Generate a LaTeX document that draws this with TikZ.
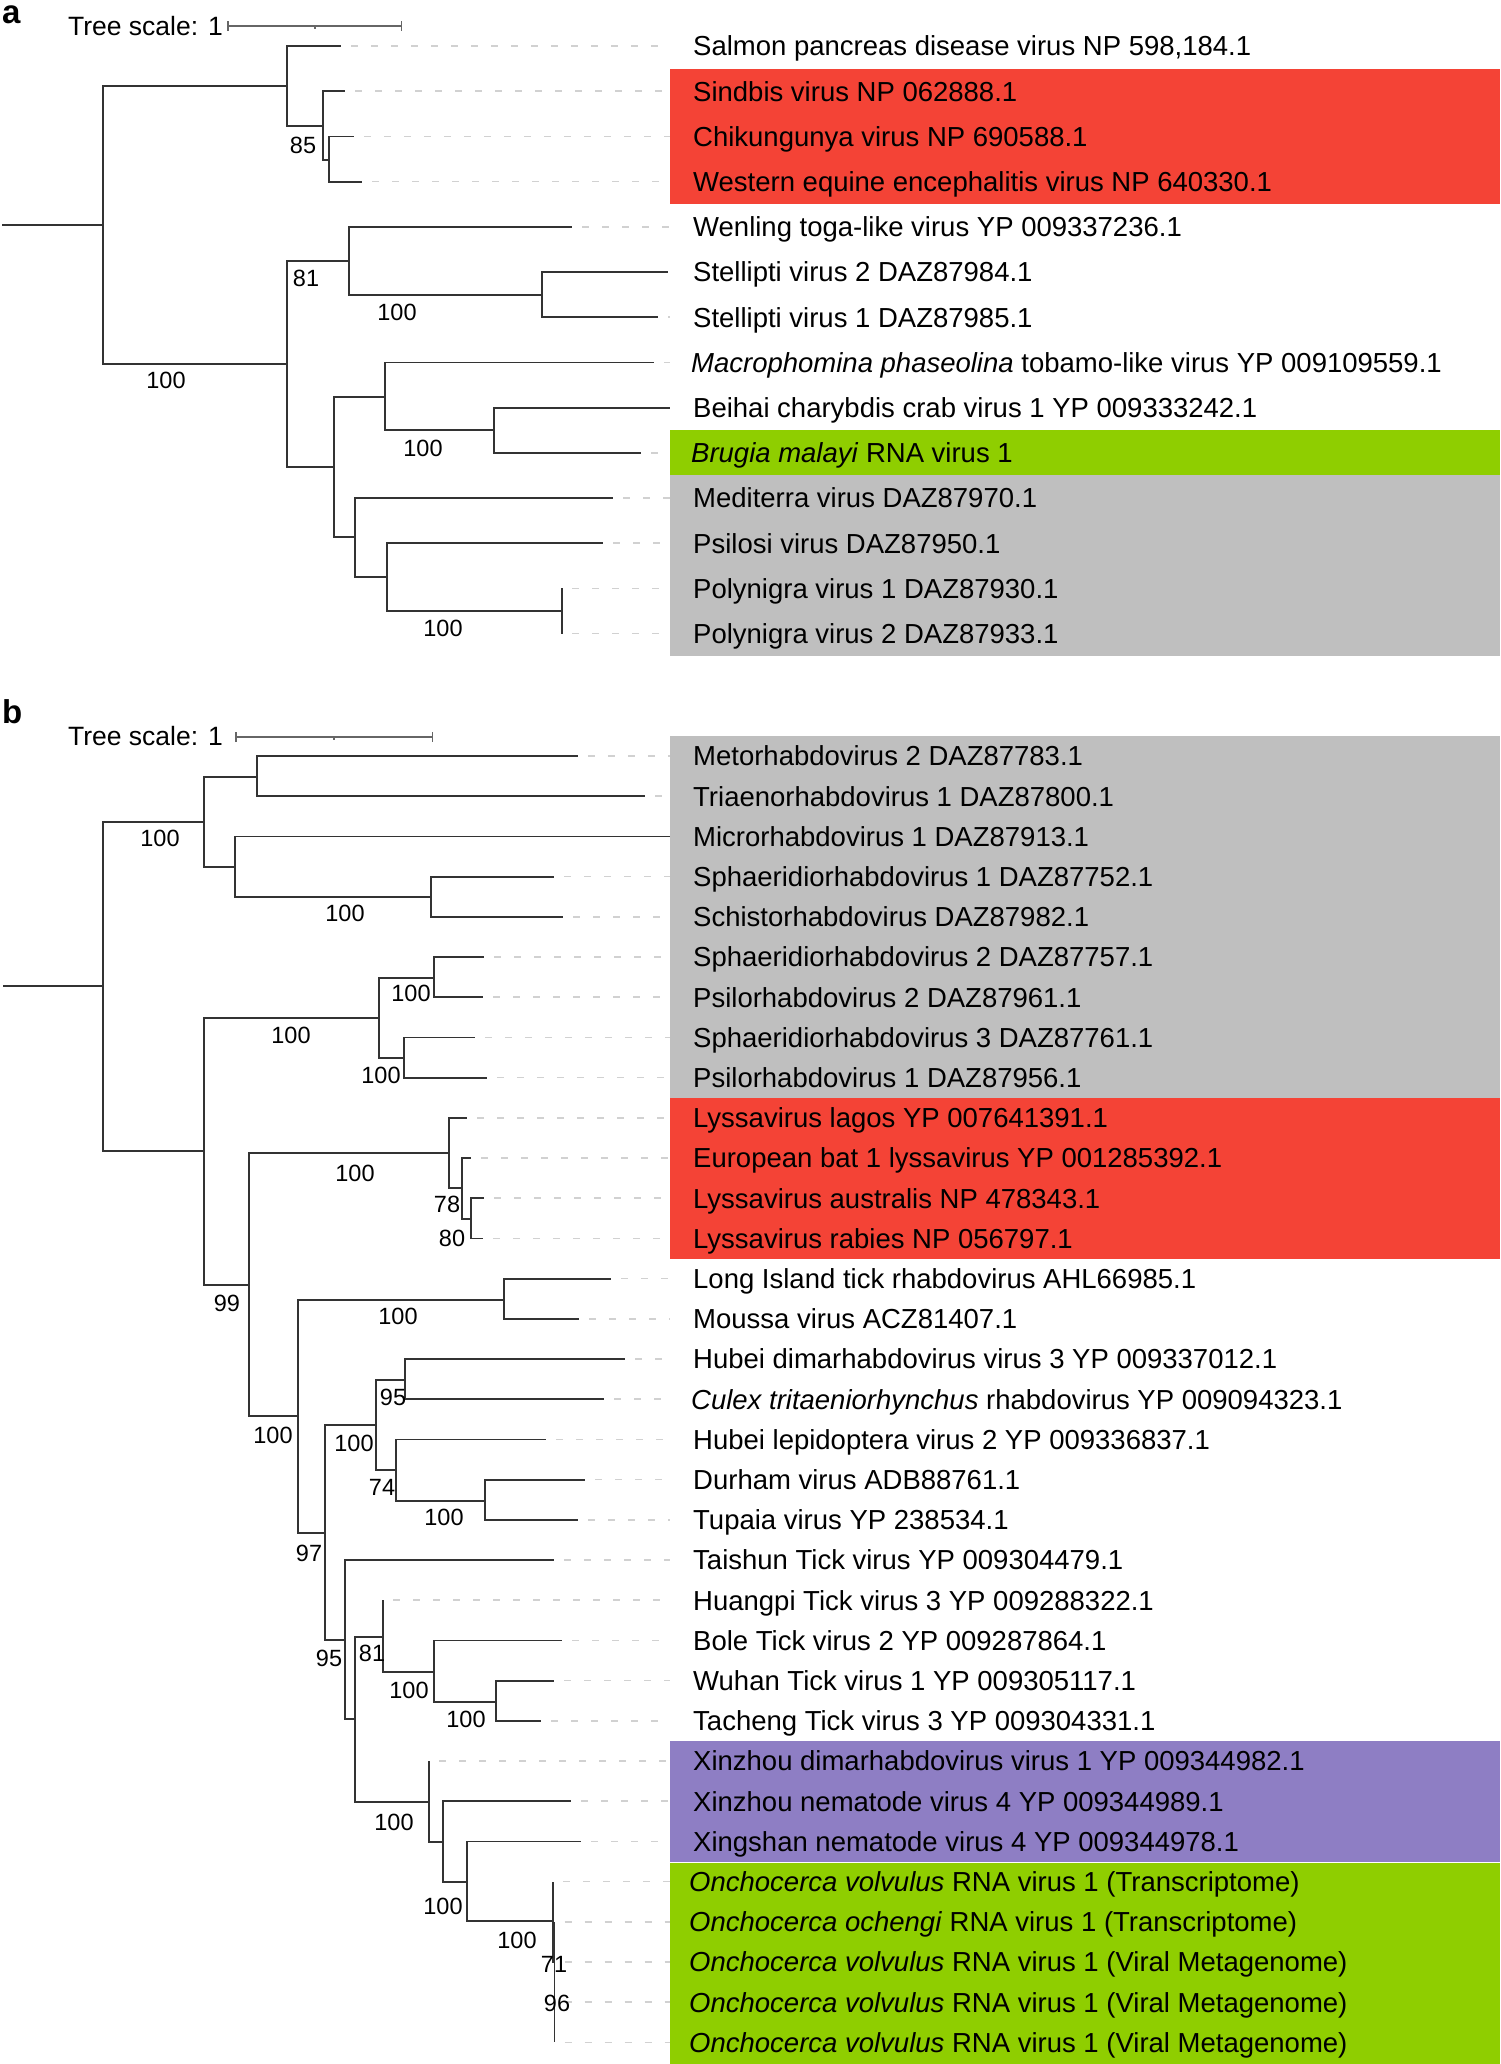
\documentclass[tikz,border=0pt]{standalone}
\usepackage{fontspec}
\setmainfont{Liberation Sans}
\usepackage{tikz}
\usetikzlibrary{positioning,arrows.meta}

\definecolor{cladered}{HTML}{F44336}
\definecolor{cladegreen}{HTML}{8FCE00}
\definecolor{cladegray}{HTML}{BFBFBF}
\definecolor{cladepurple}{HTML}{8E7EC4}
\definecolor{branchcol}{HTML}{333333}
\definecolor{scalecol}{HTML}{666666}

\newcommand{\leaffont}{\fontsize{27.5}{33}\selectfont}
\newcommand{\bootfont}{\fontsize{23.5}{28}\selectfont}
\newcommand{\scalefont}{\fontsize{26.5}{32}\selectfont}
\newcommand{\panelfont}{\fontsize{33}{40}\selectfont\bfseries}

\tikzset{
  branch/.style={draw=branchcol, line width=1.8pt},
  leader/.style={draw=black!18, line width=1.5pt, dash pattern=on 7pt off 13pt, dash phase=10pt},
  leaf/.style={anchor=base west, inner sep=0pt, font=\leaffont, yshift=-9.8pt},
  boot/.style={inner sep=0pt, font=\bootfont},
  scalebar/.style={draw=scalecol, line width=1.5pt, {Bar[width=10pt]}-{Bar[width=10pt]}},
  scaletext/.style={anchor=base east, inner sep=0pt, font=\scalefont},
  panel/.style={anchor=base west, inner sep=0pt, font=\panelfont, text height=0.55em, text depth=0pt}
}

\begin{document}
\begin{tikzpicture}[x=1pt,y=-1pt]
\useasboundingbox (0,0) rectangle (1500,2064);
\coordinate (edge) at (670,0);

% clade shading
\fill[cladered] (670,68.6) rectangle (1500,204.2);
\fill[cladegreen] (670,430.2) rectangle (1500,475.4);
\fill[cladegray] (670,475.4) rectangle (1500,656.2);
\fill[cladegray] (670,735.9) rectangle (1500,1097.7);
\fill[cladered] (670,1097.7) rectangle (1500,1258.5);
\fill[cladepurple] (670,1740.9) rectangle (1500,1861.5);
\fill[cladegreen] (670,1862.6) rectangle (1500,2064);

% panel a
\node[panel] (pa) at (2,23) {a};
\node[scaletext] (sca) at (223,35) {Tree scale: 1};
\coordinate (sa0) at (227,26); \coordinate (sa1) at (402,26); \coordinate (sam) at (315,26);
\draw[scalebar] (sa0) -- (sa1); \draw[draw=scalecol, line width=1.5pt] (sam) -- ++(0,3);

\coordinate (a0) at (2,225); \coordinate (aA) at (103,225); \coordinate (aB) at (287,86); \coordinate (aC) at (323,126); \coordinate (aD) at (329,160);
\coordinate (aE) at (287,364); \coordinate (aF) at (349,261); \coordinate (aH) at (542,295); \coordinate (aI) at (334,467); \coordinate (aJ) at (385,397);
\coordinate (aK) at (494,430); \coordinate (aL) at (355,537); \coordinate (aM) at (387,577); \coordinate (aN) at (562,611);

\coordinate (tsal) at (341,46); \coordinate (tsin) at (345,91.2); \coordinate (tchi) at (354,136.4); \coordinate (twee) at (362,181.6);
\coordinate (twen) at (572,226.8); \coordinate (tstb) at (668,272); \coordinate (tsta) at (658,317.2); \coordinate (tmac) at (654,362.4);
\coordinate (tbei) at (670,407.6); \coordinate (tbru) at (641,452.8); \coordinate (tmed) at (613,498); \coordinate (tpsi) at (603,543.2);
\coordinate (tpya) at (562,588.4); \coordinate (tpyb) at (562,633.6);

\draw[branch] (a0) -- (aA) (aA) |- (aB) (aA) |- (aE) (aB) |- (tsal) (aB) |- (aC) (aC) |- (tsin) (aC) |- (aD) (aD) |- (tchi) (aD) |- (twee);
\draw[branch] (aE) |- (aF) (aE) |- (aI) (aF) |- (twen) (aF) |- (aH) (aH) |- (tstb) (aH) |- (tsta);
\draw[branch] (aI) |- (aJ) (aI) |- (aL) (aJ) |- (tmac) (aJ) |- (aK) (aK) |- (tbei) (aK) |- (tbru);
\draw[branch] (aL) |- (tmed) (aL) |- (aM) (aM) |- (tpsi) (aM) |- (aN) (aN) |- (tpya) (aN) |- (tpyb);

\draw[leader] (tsal) -- (tsal -| edge) (tsin) -- (tsin -| edge) (tchi) -- (tchi -| edge) (twee) -- (twee -| edge) (twen) -- (twen -| edge);
\draw[leader] (tsta) -- (tsta -| edge) (tmac) -- (tmac -| edge) (tbru) -- (tbru -| edge) (tmed) -- (tmed -| edge) (tpsi) -- (tpsi -| edge) (tpya) -- (tpya -| edge) (tpyb) -- (tpyb -| edge);

\node[leaf] (lsal) at (693,46) {Salmon pancreas disease virus NP 598,184.1};
\node[leaf] (lsin) at (693,91.2) {Sindbis virus NP 062888.1};
\node[leaf] (lchi) at (693,136.4) {Chikungunya virus NP 690588.1};
\node[leaf] (lwee) at (693,181.6) {Western equine encephalitis virus NP 640330.1};
\node[leaf] (lwen) at (693,226.8) {Wenling toga-like virus YP 009337236.1};
\node[leaf] (lstb) at (693,272) {Stellipti virus 2 DAZ87984.1};
\node[leaf] (lsta) at (693,317.2) {Stellipti virus 1 DAZ87985.1};
\node[leaf] (lmac) at (691,362.4) {\textit{Macrophomina phaseolina} tobamo-like virus YP 009109559.1};
\node[leaf] (lbei) at (693,407.6) {Beihai charybdis crab virus 1 YP 009333242.1};
\node[leaf] (lbru) at (691,452.8) {\textit{Brugia malayi} RNA virus 1};
\node[leaf] (lmed) at (693,498) {Mediterra virus DAZ87970.1};
\node[leaf] (lpsi) at (693,543.2) {Psilosi virus DAZ87950.1};
\node[leaf] (lpya) at (693,588.4) {Polynigra virus 1 DAZ87930.1};
\node[leaf] (lpyb) at (693,633.6) {Polynigra virus 2 DAZ87933.1};

\node[boot] (bc) at (303,145) {85}; \node[boot] (bf) at (306,278) {81}; \node[boot] (bh) at (397,312) {100};
\node[boot] (be) at (166,380) {100}; \node[boot] (bk) at (423,448) {100}; \node[boot] (bn) at (443,628) {100};

% panel b
\node[panel] (pb) at (2,723) {b};
\node[scaletext] (scb) at (223,745) {Tree scale: 1};
\coordinate (sb0) at (235,737); \coordinate (sb1) at (433,737); \coordinate (sbm) at (334,737);
\draw[scalebar] (sb0) -- (sb1); \draw[draw=scalecol, line width=1.5pt] (sbm) -- ++(0,3);

\coordinate (b0) at (3,986); \coordinate (bS) at (103,986); \coordinate (bQ) at (204,822); \coordinate (bP) at (257,777); \coordinate (bR) at (235,867);
\coordinate (bT) at (431,897); \coordinate (bU) at (204,1151); \coordinate (bV) at (379,1018); \coordinate (bW) at (434,978); \coordinate (bX) at (404,1058);
\coordinate (bZ) at (249,1285); \coordinate (bAA) at (449,1153); \coordinate (bAB) at (462,1188); \coordinate (bAC) at (471,1219);
\coordinate (bAD) at (298,1416); \coordinate (bAE) at (504,1300); \coordinate (bAF) at (325,1533); \coordinate (bAG) at (376,1425);
\coordinate (bAH) at (405,1380); \coordinate (bAI) at (396,1470); \coordinate (bAJ) at (485,1501); \coordinate (bAK) at (345,1640);
\coordinate (bAL) at (355,1719); \coordinate (bAM) at (383,1637); \coordinate (bAN) at (434,1672); \coordinate (bAO) at (496,1702);
\coordinate (bAP) at (429,1802); \coordinate (bAQ) at (443,1842); \coordinate (bAR) at (467,1882); \coordinate (bAS) at (553,1921); \coordinate (bAT) at (554.5,1962);

\coordinate (tmet) at (578,756); \coordinate (ttri) at (645,796.2); \coordinate (tmic) at (670,836.4); \coordinate (tspa) at (554,876.6);
\coordinate (tsch) at (563,916.8); \coordinate (tspb) at (484,957); \coordinate (tpsb) at (483,997.2); \coordinate (tspc) at (475,1037.4);
\coordinate (tpsa) at (487,1077.6); \coordinate (tlag) at (467,1117.8); \coordinate (teur) at (471,1158); \coordinate (taus) at (484,1198.2);
\coordinate (trab) at (483,1238.4); \coordinate (tlon) at (611,1278.6); \coordinate (tmou) at (579,1318.8); \coordinate (thdi) at (625,1359);
\coordinate (tcul) at (604,1399.2); \coordinate (thle) at (546,1439.4); \coordinate (tdur) at (585,1479.6); \coordinate (ttup) at (578,1519.8);
\coordinate (ttai) at (554,1560); \coordinate (thua) at (383,1600.2); \coordinate (tbol) at (562,1640.4); \coordinate (twuh) at (554,1680.6);
\coordinate (ttac) at (541,1720.8); \coordinate (txdi) at (429,1761); \coordinate (txne) at (571,1801.2); \coordinate (txng) at (581,1841.4);
\coordinate (tova) at (553,1881.6); \coordinate (toch) at (554.5,1921.8); \coordinate (tovb) at (554.5,1962); \coordinate (tovc) at (554.5,2002.2); \coordinate (tovd) at (554.5,2042.4);

\draw[branch] (b0) -- (bS) (bS) |- (bQ) (bS) |- (bU) (bQ) |- (bP) (bQ) |- (bR) (bP) |- (tmet) (bP) |- (ttri) (bR) |- (tmic) (bR) |- (bT) (bT) |- (tspa) (bT) |- (tsch);
\draw[branch] (bU) |- (bV) (bU) |- (bZ) (bV) |- (bW) (bV) |- (bX) (bW) |- (tspb) (bW) |- (tpsb) (bX) |- (tspc) (bX) |- (tpsa);
\draw[branch] (bZ) |- (bAA) (bZ) |- (bAD) (bAA) |- (tlag) (bAA) |- (bAB) (bAB) |- (teur) (bAB) |- (bAC) (bAC) |- (taus) (bAC) |- (trab);
\draw[branch] (bAD) |- (bAE) (bAD) |- (bAF) (bAE) |- (tlon) (bAE) |- (tmou) (bAF) |- (bAG) (bAF) |- (bAK);
\draw[branch] (bAG) |- (bAH) (bAG) |- (bAI) (bAH) |- (thdi) (bAH) |- (tcul) (bAI) |- (thle) (bAI) |- (bAJ) (bAJ) |- (tdur) (bAJ) |- (ttup);
\draw[branch] (bAK) |- (ttai) (bAK) |- (bAL) (bAL) |- (bAM) (bAL) |- (bAP) (bAM) |- (thua) (bAM) |- (bAN) (bAN) |- (tbol) (bAN) |- (bAO) (bAO) |- (twuh) (bAO) |- (ttac);
\draw[branch] (bAP) |- (txdi) (bAP) |- (bAQ) (bAQ) |- (txne) (bAQ) |- (bAR) (bAR) |- (txng) (bAR) |- (bAS) (bAS) |- (tova) (bAS) |- (bAT);
\draw[branch] (bAT) |- (toch) (bAT) |- (tovb) (bAT) |- (tovc) (bAT) |- (tovd);

\draw[leader] (tmet) -- (tmet -| edge) (ttri) -- (ttri -| edge) (tspa) -- (tspa -| edge) (tsch) -- (tsch -| edge) (tspb) -- (tspb -| edge) (tpsb) -- (tpsb -| edge);
\draw[leader] (tspc) -- (tspc -| edge) (tpsa) -- (tpsa -| edge) (tlag) -- (tlag -| edge) (teur) -- (teur -| edge) (taus) -- (taus -| edge) (trab) -- (trab -| edge);
\draw[leader] (tlon) -- (tlon -| edge) (tmou) -- (tmou -| edge) (thdi) -- (thdi -| edge) (tcul) -- (tcul -| edge) (thle) -- (thle -| edge) (tdur) -- (tdur -| edge) (ttup) -- (ttup -| edge);
\draw[leader] (ttai) -- (ttai -| edge) (thua) -- (thua -| edge) (tbol) -- (tbol -| edge) (twuh) -- (twuh -| edge) (ttac) -- (ttac -| edge) (txdi) -- (txdi -| edge) (txne) -- (txne -| edge) (txng) -- (txng -| edge);
\draw[leader] (tova) -- (tova -| edge) (toch) -- (toch -| edge) (tovb) -- (tovb -| edge) (tovc) -- (tovc -| edge) (tovd) -- (tovd -| edge);

\node[leaf] (lmet) at (693,756) {Metorhabdovirus 2 DAZ87783.1};
\node[leaf] (ltri) at (693,796.2) {Triaenorhabdovirus 1 DAZ87800.1};
\node[leaf] (lmic) at (693,836.4) {Microrhabdovirus 1 DAZ87913.1};
\node[leaf] (lspa) at (693,876.6) {Sphaeridiorhabdovirus 1 DAZ87752.1};
\node[leaf] (lsch) at (693,916.8) {Schistorhabdovirus DAZ87982.1};
\node[leaf] (lspb) at (693,957) {Sphaeridiorhabdovirus 2 DAZ87757.1};
\node[leaf] (lpsb) at (693,997.2) {Psilorhabdovirus 2 DAZ87961.1};
\node[leaf] (lspc) at (693,1037.4) {Sphaeridiorhabdovirus 3 DAZ87761.1};
\node[leaf] (lpsa) at (693,1077.6) {Psilorhabdovirus 1 DAZ87956.1};
\node[leaf] (llag) at (693,1117.8) {Lyssavirus lagos YP 007641391.1};
\node[leaf] (leur) at (693,1158) {European bat 1 lyssavirus YP 001285392.1};
\node[leaf] (laus) at (693,1198.2) {Lyssavirus australis NP 478343.1};
\node[leaf] (lrab) at (693,1238.4) {Lyssavirus rabies NP 056797.1};
\node[leaf] (llon) at (693,1278.6) {Long Island tick rhabdovirus AHL66985.1};
\node[leaf] (lmou) at (693,1318.8) {Moussa virus ACZ81407.1};
\node[leaf] (lhdi) at (693,1359) {Hubei dimarhabdovirus virus 3 YP 009337012.1};
\node[leaf] (lcul) at (691,1399.2) {\textit{Culex tritaeniorhynchus} rhabdovirus YP 009094323.1};
\node[leaf] (lhle) at (693,1439.4) {Hubei lepidoptera virus 2 YP 009336837.1};
\node[leaf] (ldur) at (693,1479.6) {Durham virus ADB88761.1};
\node[leaf] (ltup) at (693,1519.8) {Tupaia virus YP 238534.1};
\node[leaf] (ltai) at (693,1560) {Taishun Tick virus YP 009304479.1};
\node[leaf] (lhua) at (693,1600.2) {Huangpi Tick virus 3 YP 009288322.1};
\node[leaf] (lbol) at (693,1640.4) {Bole Tick virus 2 YP 009287864.1};
\node[leaf] (lwuh) at (693,1680.6) {Wuhan Tick virus 1 YP 009305117.1};
\node[leaf] (ltac) at (693,1720.8) {Tacheng Tick virus 3 YP 009304331.1};
\node[leaf] (lxdi) at (693,1761) {Xinzhou dimarhabdovirus virus 1 YP 009344982.1};
\node[leaf] (lxne) at (693,1801.2) {Xinzhou nematode virus 4 YP 009344989.1};
\node[leaf] (lxng) at (693,1841.4) {Xingshan nematode virus 4 YP 009344978.1};
\node[leaf] (lova) at (689,1881.6) {\textit{Onchocerca volvulus} RNA virus 1 (Transcriptome)};
\node[leaf] (loch) at (689,1921.8) {\textit{Onchocerca ochengi} RNA virus 1 (Transcriptome)};
\node[leaf] (lovb) at (689,1962) {\textit{Onchocerca volvulus} RNA virus 1 (Viral Metagenome)};
\node[leaf] (lovc) at (689,2002.2) {\textit{Onchocerca volvulus} RNA virus 1 (Viral Metagenome)};
\node[leaf] (lovd) at (689,2042.4) {\textit{Onchocerca volvulus} RNA virus 1 (Viral Metagenome)};

\node[boot] (bq) at (160,838) {100}; \node[boot] (bt) at (345,913) {100}; \node[boot] (bw) at (411,993) {100};
\node[boot] (bv) at (291,1035) {100}; \node[boot] (bx) at (381,1075) {100}; \node[boot] (baa) at (355,1173) {100};
\node[boot] (bab) at (447,1204) {78}; \node[boot] (bac) at (452,1238) {80}; \node[boot] (bz) at (227,1303) {99};
\node[boot] (bae) at (398,1316) {100}; \node[boot] (bad) at (273,1435) {100}; \node[boot] (bah) at (393,1397) {95};
\node[boot] (bag) at (354,1443) {100}; \node[boot] (bai) at (382,1487) {74}; \node[boot] (baj) at (444,1517) {100};
\node[boot] (baf) at (309,1553) {97}; \node[boot] (bak) at (329,1658) {95}; \node[boot] (bam) at (372,1653) {81};
\node[boot] (ban) at (409,1690) {100}; \node[boot] (bao) at (466,1719) {100}; \node[boot] (bap) at (394,1822) {100};
\node[boot] (bar) at (443,1906) {100}; \node[boot] (bas) at (517,1940) {100}; \node[boot] (bat) at (554,1964) {71};
\node[boot] (bau) at (557,2003) {96};
\end{tikzpicture}
\end{document}
